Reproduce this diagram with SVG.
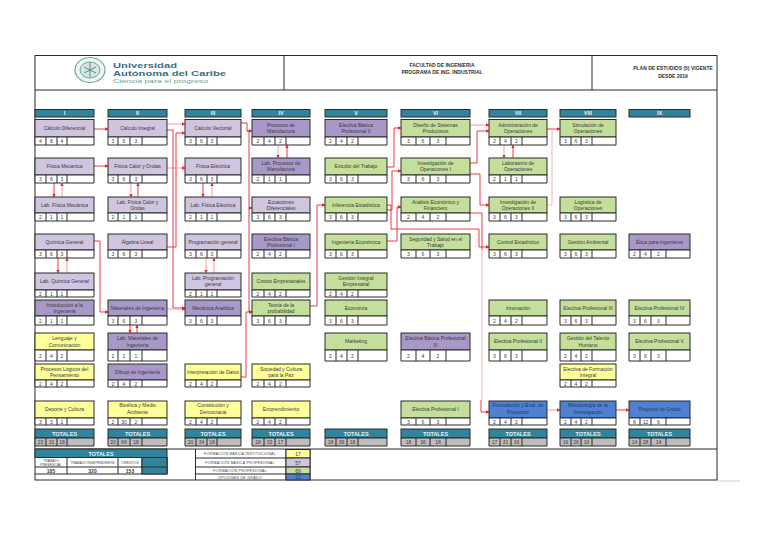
<svg xmlns="http://www.w3.org/2000/svg" width="768" height="543" viewBox="0 0 768 543">
<style>
text{font-family:"Liberation Sans",Arial,sans-serif;font-size:5px;fill:#3a3a3a;text-anchor:middle}
.b{stroke:#2b2b2b;stroke-width:1}
.l{fill:#cfc5df}.d{fill:#a898c8}.g{fill:#c4df9b}.y{fill:#ffff99}.u{fill:#4f81d3}.h{fill:#31849b}.x{fill:#bdbdbd}
.s{fill:#fff;stroke:#2b2b2b;stroke-width:1}
.sx{fill:#bdbdbd;stroke:#2b2b2b;stroke-width:1}
.f{fill:none;stroke:#2b2b2b;stroke-width:1}
.w{fill:#e6f2f5;font-weight:bold;font-size:5.5px}
.t{font-weight:bold;font-size:5px;fill:#333}
.z{fill:#1f3864}
.m{font-size:3.4px;fill:#444}
.k{font-size:3.6px;fill:#444;letter-spacing:.25px}
.o{text-anchor:start;font-weight:bold;font-size:6.8px;fill:#3a6f82}
.c{fill:none;stroke:#e8252f;stroke-width:.9;marker-end:url(#a)}
.p{fill:none;stroke:#f4929a;stroke-width:.9;marker-end:url(#a)}
.q{fill:none;stroke:#e8252f;stroke-width:.9}
.r{fill:none;stroke:#f7b3b8;stroke-width:1}
</style>
<defs>
<marker id="a" markerUnits="userSpaceOnUse" markerWidth="3.5" markerHeight="3.5" refX="3.2" refY="1.75" orient="auto"><path d="M0 0L3.500 1.750L0 3.500z" fill="#e8252f"/></marker>
</defs>
<rect width="768" height="543" fill="#fff"/>
<g id="frame">
<rect class="f" x="35" y="55.500" width="682" height="424.500"/>
<path class="f" d="M35 90H717M284 55.500V90M592 55.500V90M35 449H717"/>
<path d="M717 481H740" stroke="#ccc" stroke-width="1"/>
</g>
<g id="logo">
<ellipse cx="90" cy="70" rx="15" ry="12.500" fill="#eef5f3" stroke="#6fa59b" stroke-width="1.200"/>
<ellipse cx="90" cy="70" rx="10" ry="8" fill="#d5e6e2" stroke="#6fa59b" stroke-width="1"/>
<path d="M90 62V77M84 67L96 73M96 67L84 73" stroke="#5d9086" stroke-width="1" fill="none"/>
<text class="o" x="113" y="68" textLength="64" lengthAdjust="spacingAndGlyphs">Universidad</text>
<text class="o" x="113" y="76" textLength="113" lengthAdjust="spacingAndGlyphs">Autónoma del Caribe</text>
<text x="113" y="82.500" textLength="95" lengthAdjust="spacingAndGlyphs" style="text-anchor:start;font-size:5px;fill:#7a9a98">Ciencia para el progreso</text>
</g>
<g id="titles">
<text class="t" x="442" y="67">FACULTAD DE INGENIERIA</text>
<text class="t" x="442" y="74">PROGRAMA DE ING. INDUSTRIAL</text>
<text class="t" x="673" y="70">PLAN DE ESTUDIOS (5) VIGENTE</text>
<text class="t" x="673" y="78">DESDE 2019</text>
</g>
<g id="semesters">
<rect class="h b" x="35" y="109.500" width="59" height="7.500"/><text class="w" x="64.500" y="115.300">I</text>
<rect class="h b" x="108" y="109.500" width="59" height="7.500"/><text class="w" x="137.500" y="115.300">II</text>
<rect class="h b" x="185" y="109.500" width="56" height="7.500"/><text class="w" x="213" y="115.300">III</text>
<rect class="h b" x="252" y="109.500" width="58" height="7.500"/><text class="w" x="281" y="115.300">IV</text>
<rect class="h b" x="325" y="109.500" width="62" height="7.500"/><text class="w" x="356" y="115.300">V</text>
<rect class="h b" x="401" y="109.500" width="69" height="7.500"/><text class="w" x="435.500" y="115.300">VI</text>
<rect class="h b" x="489" y="109.500" width="58" height="7.500"/><text class="w" x="518" y="115.300">VII</text>
<rect class="h b" x="560" y="109.500" width="56" height="7.500"/><text class="w" x="588" y="115.300">VIII</text>
<rect class="h b" x="629" y="109.500" width="61" height="7.500"/><text class="w" x="659.500" y="115.300">IX</text>
</g>
<g id="connectors">
<path class="c" d="M94 129H108"/>
<path class="p" d="M167 124H185"/>
<path class="c" d="M94 166H108"/>
<path class="p" d="M167 168H185"/>
<path class="c" d="M165 130H173V308H185"/>
<path class="c" d="M165 247H176V133H185"/>
<path class="p" d="M167 309H185"/>
<path class="c" d="M94 241H100V312H108"/>
<path class="c" d="M54 183V197"/><path class="p" d="M62 197V183"/>
<path class="p" d="M131 183V197"/><path class="c" d="M138 197V183"/>
<path class="c" d="M203 183V197"/><path class="p" d="M212 197V183"/>
<path class="c" d="M58 258V273"/><path class="p" d="M67 273V258"/>
<path class="c" d="M130 325V333"/><path class="c" d="M137 333V325"/>
<path class="p" d="M206 258V273"/><path class="p" d="M214 273V258"/>
<path class="c" d="M241 123H247V131H252"/>
<path class="c" d="M247 131H249V208H252"/>
<path class="c" d="M249 208V312H252"/>
<path class="c" d="M241 377H246V312H252"/>
<path class="p" d="M278 145V158"/><path class="c" d="M287 158V145"/>
<path class="c" d="M310 306H317V205H325"/>
<path class="c" d="M387 167H394V128H401"/>
<path class="c" d="M387 210H392V171H401"/>
<path class="c" d="M387 205H391V229H479V247H489"/>
<path class="c" d="M387 241H397V207H401"/>
<path class="c" d="M470 163H477V131H489"/>
<path class="p" d="M470 125H489"/>
<path class="c" d="M470 174H480V205H489"/>
<path class="q" d="M470 213H482V250"/>
<path class="r" d="M482 250V400"/>
<path class="c" d="M481 400V412H489"/>
<path class="p" d="M504 145V158"/><path class="c" d="M513 158V145"/>
<path class="c" d="M547 129H560"/>
<path class="r" d="M547 205H552V129"/>
<path class="p" d="M547 410H560"/>
<path class="c" d="M616 410H629"/>
</g>
<g id="n-calculo-diferencial"><rect class="b l" x="35" y="119.500" width="59" height="17.500"/><text x="64.500" y="130">Cálculo Diferencial</text><path class="s" d="M35 137h59v8h-59zM46 137v8M57 137v8M67 137v8"/><text x="40.500" y="143">4</text><text x="51.500" y="143">8</text><text x="62" y="143">4</text></g>
<g id="n-fisica-mecanica"><rect class="b l" x="35" y="158" width="59" height="17"/><text x="64.500" y="168.200">Física  Mecánica</text><path class="s" d="M35 175h59v8h-59zM46 175v8M57 175v8M67 175v8"/><text x="40.500" y="181">3</text><text x="51.500" y="181">6</text><text x="62" y="181">3</text></g>
<g id="n-lab-fisica-mecanica"><rect class="b l" x="35" y="197" width="59" height="16"/><text x="64.500" y="206.700">Lab. Física Mecánica</text><path class="s" d="M35 213h59v8h-59zM46 213v8M57 213v8M67 213v8"/><text x="40.500" y="219">2</text><text x="51.500" y="219">1</text><text x="62" y="219">1</text></g>
<g id="n-quimica-general"><rect class="b l" x="35" y="234" width="59" height="16"/><text x="64.500" y="243.700">Química General</text><path class="s" d="M35 250h59v8h-59zM46 250v8M57 250v8M67 250v8"/><text x="40.500" y="256">3</text><text x="51.500" y="256">6</text><text x="62" y="256">3</text></g>
<g id="n-lab-quimica-general"><rect class="b l" x="35" y="273" width="59" height="17"/><text x="64.500" y="283.200">Lab. Química General</text><path class="s" d="M35 290h59v7h-59zM46 290v7M57 290v7M67 290v7"/><text x="40.500" y="295.500">2</text><text x="51.500" y="295.500">1</text><text x="62" y="295.500">1</text></g>
<g id="n-introduccion"><rect class="b d" x="35" y="300" width="59" height="16"/><text x="64.500" y="306.700">Introducción a la</text><text x="64.500" y="312.700">Ingeniería</text><path class="s" d="M35 316h59v9h-59zM46 316v9M57 316v9M67 316v9"/><text x="40.500" y="322.500">2</text><text x="51.500" y="322.500">1</text><text x="62" y="322.500">1</text></g>
<g id="n-lenguaje"><rect class="b y" x="35" y="333" width="59" height="17"/><text x="64.500" y="339.500">Lenguaje y</text><text x="64.500" y="346.500">Comunicación</text><path class="s" d="M35 350h59v11h-59zM46 350v11M57 350v11M67 350v11"/><text x="40.500" y="357.500">2</text><text x="51.500" y="357.500">4</text><text x="62" y="357.500">2</text></g>
<g id="n-procesos-logicos"><rect class="b y" x="35" y="364" width="59" height="16"/><text x="64.500" y="370.500">Procesos Lógicos del</text><text x="64.500" y="376.800">Pensamiento</text><path class="s" d="M35 380h59v7h-59zM46 380v7M57 380v7M67 380v7"/><text x="40.500" y="385.500">2</text><text x="51.500" y="385.500">4</text><text x="62" y="385.500">2</text></g>
<g id="n-deporte"><rect class="b y" x="35" y="401" width="59" height="17"/><text x="64.500" y="410.700">Deporte y Cultura</text><path class="s" d="M35 418h59v7h-59zM46 418v7M57 418v7M67 418v7"/><text x="40.500" y="423.500">3</text><text x="51.500" y="423.500">3</text><text x="62" y="423.500">1</text></g>
<g id="n-totales-1"><rect class="b h" x="35" y="429" width="59" height="9"/><text class="w" x="64.500" y="435.500">TOTALES</text><path class="sx" d="M35 438h59v8h-59zM46 438v8M57 438v8M67 438v8"/><text x="40.500" y="444">23</text><text x="51.500" y="444">31</text><text x="62" y="444">18</text></g>
<g id="n-calculo-integral"><rect class="b l" x="108" y="119.500" width="59" height="17.500"/><text x="137.500" y="130">Cálculo Integral</text><path class="s" d="M108 137h59v8h-59zM118 137v8M130 137v8M142 137v8"/><text x="113" y="143">3</text><text x="124" y="143">6</text><text x="136" y="143">3</text></g>
<g id="n-fisica-calor"><rect class="b l" x="108" y="158" width="59" height="17"/><text x="137.500" y="168.200">Física Calor y Ondas</text><path class="s" d="M108 175h59v8h-59zM118 175v8M130 175v8M142 175v8"/><text x="113" y="181">3</text><text x="124" y="181">6</text><text x="136" y="181">3</text></g>
<g id="n-lab-fisica-calor"><rect class="b l" x="108" y="197" width="59" height="16"/><text x="137.500" y="203.700">Lab. Física Calor y</text><text x="137.500" y="210">Ondas</text><path class="s" d="M108 213h59v8h-59zM118 213v8M130 213v8M142 213v8"/><text x="113" y="219">2</text><text x="124" y="219">1</text><text x="136" y="219">1</text></g>
<g id="n-algebra"><rect class="b l" x="108" y="234" width="59" height="16"/><text x="137.500" y="243.700">Álgebra Lineal</text><path class="s" d="M108 250h59v8h-59zM118 250v8M130 250v8M142 250v8"/><text x="113" y="256">3</text><text x="124" y="256">6</text><text x="136" y="256">3</text></g>
<g id="n-materiales"><rect class="b d" x="108" y="300" width="59" height="16"/><text x="137.500" y="309.700">Materiales de Ingeniería</text><path class="s" d="M108 316h59v9h-59zM118 316v9M130 316v9M142 316v9"/><text x="113" y="322.500">3</text><text x="124" y="322.500">6</text><text x="136" y="322.500">3</text></g>
<g id="n-lab-materiales"><rect class="b d" x="108" y="333" width="59" height="17"/><text x="137.500" y="339.500">Lab. Materiales de</text><text x="137.500" y="346.500">Ingeniería</text><path class="s" d="M108 350h59v11h-59zM118 350v11M130 350v11M142 350v11"/><text x="113" y="357.500">2</text><text x="124" y="357.500">1</text><text x="136" y="357.500">1</text></g>
<g id="n-dibujo"><rect class="b d" x="108" y="364" width="59" height="16"/><text x="137.500" y="373.700">Dibujo de Ingeniería</text><path class="s" d="M108 380h59v7h-59zM118 380v7M130 380v7M142 380v7"/><text x="113" y="385.500">2</text><text x="124" y="385.500">4</text><text x="136" y="385.500">2</text></g>
<g id="n-bioetica"><rect class="b y" x="108" y="401" width="59" height="17"/><text x="137.500" y="407">Bioética y Medio</text><text x="137.500" y="414">Ambiente</text><path class="s" d="M108 418h59v7h-59zM118 418v7M130 418v7M142 418v7"/><text x="113" y="423.500">2</text><text x="124" y="423.500">30</text><text x="136" y="423.500">2</text></g>
<g id="n-totales-2"><rect class="b h" x="108" y="429" width="59" height="9"/><text class="w" x="137.500" y="435.500">TOTALES</text><path class="sx" d="M108 438h59v8h-59zM118 438v8M130 438v8M142 438v8"/><text x="113" y="444">20</text><text x="124" y="444">64</text><text x="136" y="444">18</text></g>
<g id="n-calculo-vectorial"><rect class="b l" x="185" y="119.500" width="56" height="17.500"/><text x="213" y="130">Cálculo Vectorial</text><path class="s" d="M185 137h56v8h-56zM196 137v8M207 137v8M217 137v8"/><text x="190.500" y="143">3</text><text x="201.500" y="143">6</text><text x="212" y="143">3</text></g>
<g id="n-fisica-electrica"><rect class="b l" x="185" y="158" width="56" height="17"/><text x="213" y="168.200">Física Eléctrica</text><path class="s" d="M185 175h56v8h-56zM196 175v8M207 175v8M217 175v8"/><text x="190.500" y="181">3</text><text x="201.500" y="181">6</text><text x="212" y="181">3</text></g>
<g id="n-lab-fisica-electrica"><rect class="b l" x="185" y="197" width="56" height="16"/><text x="213" y="206.700">Lab. Física Eléctrica</text><path class="s" d="M185 213h56v8h-56zM196 213v8M207 213v8M217 213v8"/><text x="190.500" y="219">2</text><text x="201.500" y="219">1</text><text x="212" y="219">1</text></g>
<g id="n-programacion"><rect class="b l" x="185" y="234" width="56" height="16"/><text x="213" y="243.700">Programación general</text><path class="s" d="M185 250h56v8h-56zM196 250v8M207 250v8M217 250v8"/><text x="190.500" y="256">3</text><text x="201.500" y="256">6</text><text x="212" y="256">3</text></g>
<g id="n-lab-programacion"><rect class="b l" x="185" y="273" width="56" height="17"/><text x="213" y="279.500">Lab. Programación</text><text x="213" y="285.800">general</text><path class="s" d="M185 290h56v7h-56zM196 290v7M207 290v7M217 290v7"/><text x="190.500" y="295.500">2</text><text x="201.500" y="295.500">1</text><text x="212" y="295.500">1</text></g>
<g id="n-mecanica"><rect class="b d" x="185" y="300" width="56" height="16"/><text x="213" y="309.700">Mecánica Analítica</text><path class="s" d="M185 316h56v9h-56zM196 316v9M207 316v9M217 316v9"/><text x="190.500" y="322.500">3</text><text x="201.500" y="322.500">6</text><text x="212" y="322.500">3</text></g>
<g id="n-interpretacion"><rect class="b y" x="185" y="364" width="56" height="16"/><text x="213" y="373.700">Interpretación de Datos</text><path class="s" d="M185 380h56v7h-56zM196 380v7M207 380v7M217 380v7"/><text x="190.500" y="385.500">2</text><text x="201.500" y="385.500">4</text><text x="212" y="385.500">2</text></g>
<g id="n-constitucion"><rect class="b y" x="185" y="401" width="56" height="17"/><text x="213" y="407">Constitución y</text><text x="213" y="414">Democracia</text><path class="s" d="M185 418h56v7h-56zM196 418v7M207 418v7M217 418v7"/><text x="190.500" y="423.500">2</text><text x="201.500" y="423.500">4</text><text x="212" y="423.500">2</text></g>
<g id="n-totales-3"><rect class="b h" x="185" y="429" width="56" height="9"/><text class="w" x="213" y="435.500">TOTALES</text><path class="sx" d="M185 438h56v8h-56zM196 438v8M207 438v8M217 438v8"/><text x="190.500" y="444">20</text><text x="201.500" y="444">34</text><text x="212" y="444">18</text></g>
<g id="n-procesos"><rect class="b d" x="252" y="119.500" width="58" height="17.500"/><text x="281" y="126.500">Procesos de</text><text x="281" y="132.700">Manufactura</text><path class="s" d="M252 137h58v8h-58zM264 137v8M275 137v8M286 137v8"/><text x="258" y="143">2</text><text x="269.500" y="143">4</text><text x="280.500" y="143">2</text></g>
<g id="n-lab-procesos"><rect class="b d" x="252" y="158" width="58" height="17"/><text x="281" y="164.500">Lab. Procesos de</text><text x="281" y="170.800">Manufactura</text><path class="s" d="M252 175h58v8h-58zM264 175v8M275 175v8M286 175v8"/><text x="258" y="181">2</text><text x="269.500" y="181">1</text><text x="280.500" y="181">1</text></g>
<g id="n-ecuaciones"><rect class="b l" x="252" y="197" width="58" height="16"/><text x="281" y="203.700">Ecuaciones</text><text x="281" y="210">Diferenciales</text><path class="s" d="M252 213h58v8h-58zM264 213v8M275 213v8M286 213v8"/><text x="258" y="219">3</text><text x="269.500" y="219">6</text><text x="280.500" y="219">3</text></g>
<g id="n-electiva-basica-1"><rect class="b d" x="252" y="234" width="58" height="16"/><text x="281" y="240.700">Electiva Básica</text><text x="281" y="247">Profesional I</text><path class="s" d="M252 250h58v8h-58zM264 250v8M275 250v8M286 250v8"/><text x="258" y="256">2</text><text x="269.500" y="256">4</text><text x="280.500" y="256">2</text></g>
<g id="n-costos"><rect class="b g" x="252" y="273" width="58" height="17"/><text x="281" y="283.200">Costos Empresariales</text><path class="s" d="M252 290h58v7h-58zM264 290v7M275 290v7M286 290v7"/><text x="258" y="295.500">2</text><text x="269.500" y="295.500">4</text><text x="280.500" y="295.500">2</text></g>
<g id="n-teoria"><rect class="b g" x="252" y="300" width="58" height="16"/><text x="281" y="306.700">Teoría de la</text><text x="281" y="312.700">probabilidad</text><path class="s" d="M252 316h58v9h-58zM264 316v9M275 316v9M286 316v9"/><text x="258" y="322.500">3</text><text x="269.500" y="322.500">6</text><text x="280.500" y="322.500">3</text></g>
<g id="n-sociedad"><rect class="b y" x="252" y="364" width="58" height="16"/><text x="281" y="370.500">Sociedad y Cultura</text><text x="281" y="376.800">para la Paz</text><path class="s" d="M252 380h58v7h-58zM264 380v7M275 380v7M286 380v7"/><text x="258" y="385.500">2</text><text x="269.500" y="385.500">4</text><text x="280.500" y="385.500">2</text></g>
<g id="n-emprendimiento"><rect class="b y" x="252" y="401" width="58" height="17"/><text x="281" y="410.700">Emprendimiento</text><path class="s" d="M252 418h58v7h-58zM264 418v7M275 418v7M286 418v7"/><text x="258" y="423.500">2</text><text x="269.500" y="423.500">4</text><text x="280.500" y="423.500">2</text></g>
<g id="n-totales-4"><rect class="b h" x="252" y="429" width="58" height="9"/><text class="w" x="281" y="435.500">TOTALES</text><path class="sx" d="M252 438h58v8h-58zM264 438v8M275 438v8M286 438v8"/><text x="258" y="444">18</text><text x="269.500" y="444">33</text><text x="280.500" y="444">17</text></g>
<g id="n-electiva-basica-2"><rect class="b d" x="325" y="119.500" width="62" height="17.500"/><text x="356" y="126.500">Electiva Básica</text><text x="356" y="132.700">Profesional II</text><path class="s" d="M325 137h62v8h-62zM336 137v8M347 137v8M358 137v8"/><text x="330.500" y="143">2</text><text x="341.500" y="143">4</text><text x="352.500" y="143">2</text></g>
<g id="n-estudio"><rect class="b g" x="325" y="158" width="62" height="17"/><text x="356" y="168.200">Estudio del Trabajo</text><path class="s" d="M325 175h62v8h-62zM336 175v8M347 175v8M358 175v8"/><text x="330.500" y="181">3</text><text x="341.500" y="181">6</text><text x="352.500" y="181">3</text></g>
<g id="n-inferencia"><rect class="b g" x="325" y="197" width="62" height="16"/><text x="356" y="206.700">Inferencia Estadística</text><path class="s" d="M325 213h62v8h-62zM336 213v8M347 213v8M358 213v8"/><text x="330.500" y="219">3</text><text x="341.500" y="219">6</text><text x="352.500" y="219">3</text></g>
<g id="n-ing-economica"><rect class="b g" x="325" y="234" width="62" height="16"/><text x="356" y="243.700">Ingeniería Económica</text><path class="s" d="M325 250h62v8h-62zM336 250v8M347 250v8M358 250v8"/><text x="330.500" y="256">3</text><text x="341.500" y="256">6</text><text x="352.500" y="256">3</text></g>
<g id="n-gestion-integral"><rect class="b g" x="325" y="273" width="62" height="17"/><text x="356" y="279.500">Gestión Integral</text><text x="356" y="285.800">Empresarial</text><path class="s" d="M325 290h62v7h-62zM336 290v7M347 290v7M358 290v7"/><text x="330.500" y="295.500">2</text><text x="341.500" y="295.500">4</text><text x="352.500" y="295.500">2</text></g>
<g id="n-economia"><rect class="b g" x="325" y="300" width="62" height="16"/><text x="356" y="309.700">Economía</text><path class="s" d="M325 316h62v9h-62zM336 316v9M347 316v9M358 316v9"/><text x="330.500" y="322.500">3</text><text x="341.500" y="322.500">6</text><text x="352.500" y="322.500">3</text></g>
<g id="n-marketing"><rect class="b g" x="325" y="333" width="62" height="17"/><text x="356" y="343.200">Marketing</text><path class="s" d="M325 350h62v11h-62zM336 350v11M347 350v11M358 350v11"/><text x="330.500" y="357.500">2</text><text x="341.500" y="357.500">4</text><text x="352.500" y="357.500">2</text></g>
<g id="n-totales-5"><rect class="b h" x="325" y="429" width="62" height="9"/><text class="w" x="356" y="435.500">TOTALES</text><path class="sx" d="M325 438h62v8h-62zM336 438v8M347 438v8M358 438v8"/><text x="330.500" y="444">18</text><text x="341.500" y="444">36</text><text x="352.500" y="444">18</text></g>
<g id="n-diseno"><rect class="b g" x="401" y="119.500" width="69" height="17.500"/><text x="435.500" y="126.500">Diseño de Sistemas</text><text x="435.500" y="132.700">Productivos</text><path class="s" d="M401 137h69v8h-69zM416 137v8M430 137v8M446 137v8"/><text x="408.500" y="143">3</text><text x="423" y="143">6</text><text x="438" y="143">3</text></g>
<g id="n-inv-op-1"><rect class="b g" x="401" y="158" width="69" height="17"/><text x="435.500" y="164.500">Investigación de</text><text x="435.500" y="170.800">Operaciones I</text><path class="s" d="M401 175h69v8h-69zM416 175v8M430 175v8M446 175v8"/><text x="408.500" y="181">3</text><text x="423" y="181">6</text><text x="438" y="181">3</text></g>
<g id="n-analisis"><rect class="b g" x="401" y="197" width="69" height="16"/><text x="435.500" y="203.700">Análisis Económico y</text><text x="435.500" y="210">Financiero</text><path class="s" d="M401 213h69v8h-69zM416 213v8M430 213v8M446 213v8"/><text x="408.500" y="219">2</text><text x="423" y="219">4</text><text x="438" y="219">2</text></g>
<g id="n-seguridad"><rect class="b g" x="401" y="234" width="69" height="16"/><text x="435.500" y="240.700">Seguridad y Salud en el</text><text x="435.500" y="247">Trabajo</text><path class="s" d="M401 250h69v8h-69zM416 250v8M430 250v8M446 250v8"/><text x="408.500" y="256">3</text><text x="423" y="256">6</text><text x="438" y="256">3</text></g>
<g id="n-electiva-basica-3"><rect class="b d" x="401" y="333" width="69" height="17"/><text x="435.500" y="339.500">Electiva Básica Profesional</text><text x="435.500" y="346.500">III</text><path class="s" d="M401 350h69v11h-69zM416 350v11M430 350v11M446 350v11"/><text x="408.500" y="357.500">2</text><text x="423" y="357.500">4</text><text x="438" y="357.500">2</text></g>
<g id="n-electiva-prof-1"><rect class="b g" x="401" y="401" width="69" height="17"/><text x="435.500" y="410.700">Electiva Profesional  I</text><path class="s" d="M401 418h69v7h-69zM416 418v7M430 418v7M446 418v7"/><text x="408.500" y="423.500">3</text><text x="423" y="423.500">6</text><text x="438" y="423.500">3</text></g>
<g id="n-totales-6"><rect class="b h" x="401" y="429" width="69" height="9"/><text class="w" x="435.500" y="435.500">TOTALES</text><path class="sx" d="M401 438h69v8h-69zM416 438v8M430 438v8M446 438v8"/><text x="408.500" y="444">18</text><text x="423" y="444">36</text><text x="438" y="444">18</text></g>
<g id="n-administracion"><rect class="b g" x="489" y="119.500" width="58" height="17.500"/><text x="518" y="126.500">Administración de</text><text x="518" y="132.700">Operaciones</text><path class="s" d="M489 137h58v8h-58zM500 137v8M511 137v8M522 137v8"/><text x="494.500" y="143">2</text><text x="505.500" y="143">4</text><text x="516.500" y="143">2</text></g>
<g id="n-laboratorio"><rect class="b g" x="489" y="158" width="58" height="17"/><text x="518" y="164.500">Laboratorio de</text><text x="518" y="170.800">Operaciones</text><path class="s" d="M489 175h58v8h-58zM500 175v8M511 175v8M522 175v8"/><text x="494.500" y="181">2</text><text x="505.500" y="181">1</text><text x="516.500" y="181">1</text></g>
<g id="n-inv-op-2"><rect class="b g" x="489" y="197" width="58" height="16"/><text x="518" y="203.700">Investigación de</text><text x="518" y="210">Operaciones II</text><path class="s" d="M489 213h58v8h-58zM500 213v8M511 213v8M522 213v8"/><text x="494.500" y="219">3</text><text x="505.500" y="219">6</text><text x="516.500" y="219">3</text></g>
<g id="n-control"><rect class="b g" x="489" y="234" width="58" height="16"/><text x="518" y="243.700">Control Estadístico</text><path class="s" d="M489 250h58v8h-58zM500 250v8M511 250v8M522 250v8"/><text x="494.500" y="256">3</text><text x="505.500" y="256">6</text><text x="516.500" y="256">3</text></g>
<g id="n-innovacion"><rect class="b g" x="489" y="300" width="58" height="16"/><text x="518" y="309.700">Innovación</text><path class="s" d="M489 316h58v9h-58zM500 316v9M511 316v9M522 316v9"/><text x="494.500" y="322.500">2</text><text x="505.500" y="322.500">4</text><text x="516.500" y="322.500">2</text></g>
<g id="n-electiva-prof-2"><rect class="b g" x="489" y="333" width="58" height="17"/><text x="518" y="343.200">Electiva Profesional II</text><path class="s" d="M489 350h58v11h-58zM500 350v11M511 350v11M522 350v11"/><text x="494.500" y="357.500">3</text><text x="505.500" y="357.500">6</text><text x="516.500" y="357.500">3</text></g>
<g id="n-formulacion"><rect class="b u" x="489" y="401" width="58" height="17"/><text class="z" x="518" y="407">Formulación y Eval. de</text><text class="z" x="518" y="414">Proyectos</text><path class="s" d="M489 418h58v7h-58zM500 418v7M511 418v7M522 418v7"/><text x="494.500" y="423.500">2</text><text x="505.500" y="423.500">4</text><text x="516.500" y="423.500">2</text></g>
<g id="n-totales-7"><rect class="b h" x="489" y="429" width="58" height="9"/><text class="w" x="518" y="435.500">TOTALES</text><path class="sx" d="M489 438h58v8h-58zM500 438v8M511 438v8M522 438v8"/><text x="494.500" y="444">17</text><text x="505.500" y="444">31</text><text x="516.500" y="444">16</text></g>
<g id="n-simulacion"><rect class="b g" x="560" y="119.500" width="56" height="17.500"/><text x="588" y="126.500">Simulación de</text><text x="588" y="132.700">Operaciones</text><path class="s" d="M560 137h56v8h-56zM571 137v8M581 137v8M592 137v8"/><text x="565.500" y="143">3</text><text x="576" y="143">6</text><text x="586.500" y="143">3</text></g>
<g id="n-logistica"><rect class="b g" x="560" y="197" width="56" height="16"/><text x="588" y="203.700">Logística de</text><text x="588" y="210">Operaciones</text><path class="s" d="M560 213h56v8h-56zM571 213v8M581 213v8M592 213v8"/><text x="565.500" y="219">3</text><text x="576" y="219">6</text><text x="586.500" y="219">3</text></g>
<g id="n-gestion-ambiental"><rect class="b g" x="560" y="234" width="56" height="16"/><text x="588" y="243.700">Gestión Ambiental</text><path class="s" d="M560 250h56v8h-56zM571 250v8M581 250v8M592 250v8"/><text x="565.500" y="256">3</text><text x="576" y="256">6</text><text x="586.500" y="256">3</text></g>
<g id="n-electiva-prof-3"><rect class="b g" x="560" y="300" width="56" height="16"/><text x="588" y="309.700">Electiva Profesional  III</text><path class="s" d="M560 316h56v9h-56zM571 316v9M581 316v9M592 316v9"/><text x="565.500" y="322.500">3</text><text x="576" y="322.500">6</text><text x="586.500" y="322.500">3</text></g>
<g id="n-gestion-talento"><rect class="b g" x="560" y="333" width="56" height="17"/><text x="588" y="339.500">Gestión del Talento</text><text x="588" y="346.500">Humano</text><path class="s" d="M560 350h56v11h-56zM571 350v11M581 350v11M592 350v11"/><text x="565.500" y="357.500">2</text><text x="576" y="357.500">4</text><text x="586.500" y="357.500">2</text></g>
<g id="n-electiva-formacion"><rect class="b y" x="560" y="364" width="56" height="16"/><text x="588" y="370.500">Electiva de Formación</text><text x="588" y="376.800">Integral</text><path class="s" d="M560 380h56v7h-56zM571 380v7M581 380v7M592 380v7"/><text x="565.500" y="385.500">2</text><text x="576" y="385.500">4</text><text x="586.500" y="385.500">2</text></g>
<g id="n-metodologia"><rect class="b u" x="560" y="401" width="56" height="17"/><text class="z" x="588" y="407">Metodología de la</text><text class="z" x="588" y="414">Investigación</text><path class="s" d="M560 418h56v7h-56zM571 418v7M581 418v7M592 418v7"/><text x="565.500" y="423.500">2</text><text x="576" y="423.500">4</text><text x="586.500" y="423.500">2</text></g>
<g id="n-totales-8"><rect class="b h" x="560" y="429" width="56" height="9"/><text class="w" x="588" y="435.500">TOTALES</text><path class="sx" d="M560 438h56v8h-56zM571 438v8M581 438v8M592 438v8"/><text x="565.500" y="444">16</text><text x="576" y="444">26</text><text x="586.500" y="444">16</text></g>
<g id="n-etica"><rect class="b d" x="629" y="234" width="61" height="16"/><text x="659.500" y="243.700">Ética para ingenieros</text><path class="s" d="M629 250h61v8h-61zM640 250v8M651 250v8M666 250v8"/><text x="634.500" y="256">2</text><text x="645.500" y="256">4</text><text x="658.500" y="256">2</text></g>
<g id="n-electiva-prof-4"><rect class="b g" x="629" y="300" width="61" height="16"/><text x="659.500" y="309.700">Electiva Profesional IV</text><path class="s" d="M629 316h61v9h-61zM640 316v9M651 316v9M666 316v9"/><text x="634.500" y="322.500">3</text><text x="645.500" y="322.500">6</text><text x="658.500" y="322.500">3</text></g>
<g id="n-electiva-prof-5"><rect class="b g" x="629" y="333" width="61" height="17"/><text x="659.500" y="343.200">Electiva Profesional V</text><path class="s" d="M629 350h61v11h-61zM640 350v11M651 350v11M666 350v11"/><text x="634.500" y="357.500">3</text><text x="645.500" y="357.500">6</text><text x="658.500" y="357.500">3</text></g>
<g id="n-proyecto"><rect class="b u" x="629" y="401" width="61" height="17"/><text class="z" x="659.500" y="410.700">Proyecto de Grado</text><path class="s" d="M629 418h61v7h-61zM640 418v7M651 418v7M666 418v7"/><text x="634.500" y="423.500">6</text><text x="645.500" y="423.500">12</text><text x="658.500" y="423.500">6</text></g>
<g id="n-totales-9"><rect class="b h" x="629" y="429" width="61" height="9"/><text class="w" x="659.500" y="435.500">TOTALES</text><path class="sx" d="M629 438h61v8h-61zM640 438v8M651 438v8M666 438v8"/><text x="634.500" y="444">14</text><text x="645.500" y="444">28</text><text x="658.500" y="444">14</text></g>
<g id="summary">
<rect class="b h" x="35" y="449" width="132" height="8.500"/><text class="w" x="101" y="455.500">TOTALES</text>
<path class="f" d="M35 457.500H167V474H35M35 467H167M67 457.500V474M118 457.500V474M142 457.500V474M167 457.500V474"/>
<rect class="h" x="142" y="457.500" width="25" height="16.500" stroke="#2b2b2b"/>
<path class="f" d="M142 467H167"/>
<text class="m" x="51" y="461.500">TRABAJO</text><text class="m" x="51" y="465.700">PRESENCIAL</text>
<text class="m" x="92.500" y="463.500">TRABAJO INDEPENDIENTE</text>
<text class="m" x="130" y="463.500">CREDITOS</text>
<text x="51" y="472.500" style="font-weight:bold">185</text>
<text x="92.500" y="472.500" style="font-weight:bold">320</text>
<text x="130" y="472.500" style="font-weight:bold">153</text>
</g>
<g id="legend">
<path class="f" d="M195.500 449V480M195.500 458H310M195.500 467H310M195.500 474H310M286 449V480M310 449V480"/>
<rect class="y b" x="286" y="449.500" width="24" height="8.500"/>
<rect class="l b" x="286" y="458" width="24" height="9"/>
<rect class="g b" x="286" y="467" width="24" height="7"/>
<rect class="u b" x="286" y="474" width="24" height="6"/>
<text class="k" x="240" y="454.500">FORMACIÓN  BASICA  INSTITUCIONAL</text>
<text class="k" x="240" y="463.500">FORMACIÓN BASICA PROFESIONAL</text>
<text class="k" x="240" y="471.500">FORMACIÓN PROFESIONAL</text>
<text class="k" x="240" y="478.500">OPCIONES DE GRADO</text>
<text x="298" y="455.700">17</text><text x="298" y="464.500">57</text><text x="298" y="472.500">69</text><text x="298" y="479">10</text>
</g>
</svg>
